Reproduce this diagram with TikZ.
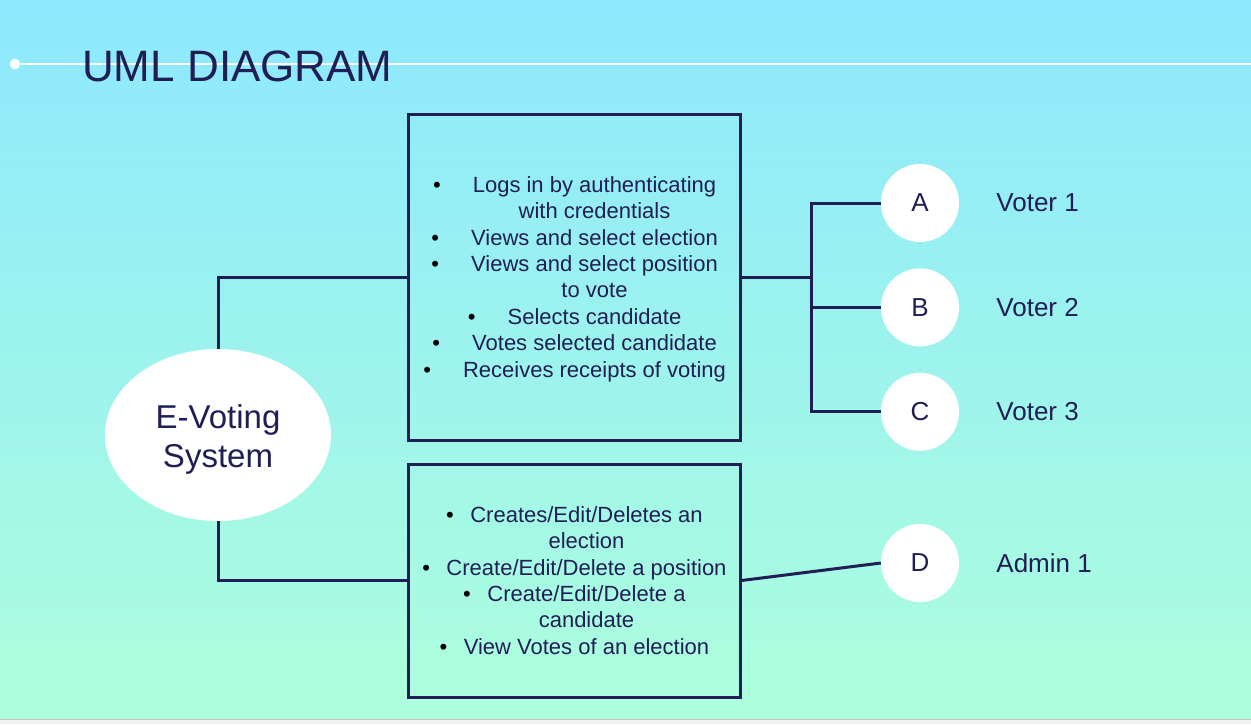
\documentclass[tikz,border=0pt]{standalone}
\usepackage{fontspec}
\setmainfont{Liberation Sans}
\usetikzlibrary{shapes.geometric,positioning,calc}
\definecolor{ink}{RGB}{32,30,84}
\definecolor{skytop}{RGB}{141,232,254}
\definecolor{mintbot}{RGB}{173,255,220}
\newcommand{\bul}[1][32pt]{\llap{\textcolor{black}{\textbullet}\hspace{#1}}}

\begin{document}
\begin{tikzpicture}[
  x=1pt,y=-1pt,
  wire/.style  ={draw=ink,line width=3pt},
  panel/.style ={draw=ink,line width=3pt,minimum width=332pt,inner sep=0pt},
  items/.style ={align=center,text=ink,inner sep=0pt,
                 font=\fontsize{22pt}{26.4pt}\selectfont},
  actor/.style ={circle,fill=white,minimum size=78pt,inner sep=0pt,text=ink,
                 font=\fontsize{26pt}{31pt}\selectfont},
  who/.style   ={text=ink,inner sep=0pt,anchor=west,
                 font=\fontsize{26pt}{31pt}\selectfont},
  sysell/.style={ellipse,fill=white,minimum width=226pt,minimum height=172pt,
                 inner sep=0pt},
  systxt/.style={align=center,text=ink,inner sep=0pt,
                 font=\fontsize{33pt}{39.5pt}\selectfont}]

% ---------- background ----------
\useasboundingbox (0,0) rectangle (1251,724);
\shade[top color=skytop,bottom color=mintbot] (0,0) rectangle (1251,719);
\fill[gray!12] (0,719) rectangle (1251,724);
\draw[gray!45,line width=1pt] (0,719.5) -- (1251,719.5);

% ---------- title ----------
\node[circle,fill=white,minimum size=10.6pt,inner sep=0pt] (dot) at (15,64) {};
\coordinate (edge) at (1251,64);
\draw[white,line width=2pt] (dot) -- (edge);
\node[anchor=base west,inner sep=0pt,text=ink,
      font=\fontsize{44pt}{53pt}\selectfont] (title) at (82,81) {UML DIAGRAM};

% ---------- system and use-case panels ----------
\node[sysell] (sys) at (218,435) {};
\node[systxt] (sysname) at ([yshift=-4.5pt]sys.center) {E-Voting\\System};

\node[panel,minimum height=326pt] (usr) at (574,277) {};
\node[panel,minimum height=233pt] (adm) at (574,580.5) {};

\node[items] (usrtxt) at ([xshift=20.5pt,yshift=-2pt]usr.center)
  {\bul Logs in by authenticating\\with credentials\\
   \bul Views and select election\\
   \bul Views and select position\\to vote\\
   \bul Selects candidate\\
   \bul Votes selected candidate\\
   \bul Receives receipts of voting};
\node[items] (admtxt) at ([xshift=12.5pt]adm.center)
  {\bul[16.5pt]Creates/Edit/Deletes an\\election\\
   \bul[16.5pt]Create/Edit/Delete a position\\
   \bul[16.5pt]Create/Edit/Delete a\\candidate\\
   \bul[16.5pt]View Votes of an election};

% ---------- actors ----------
\node[actor] (vA) at (920,203) {A};
\node[actor,below=26pt of vA] (vB) {B};
\node[actor,below=26pt of vB] (vC) {C};
\node[actor] (vD) at (920,563) {D};

\node[who,right=37pt of vA] (lA) {Voter 1};
\node[who,right=37pt of vB] (lB) {Voter 2};
\node[who,right=37pt of vC] (lC) {Voter 3};
\node[who,right=37pt of vD] (lD) {Admin 1};

% ---------- connectors ----------
\draw[wire] (sys.north) |- (usr.west);
\draw[wire] (sys.south) |- (adm.west);

\coordinate[right=70pt of usr.east] (hub);
\draw[wire] (usr.east) -- (hub);
\draw[wire] (vA.west) -| (hub) |- (vC.west);
\draw[wire] (vB.west) -- (vB.west -| hub);
\draw[wire] (adm.east) -- (vD.west);

\end{tikzpicture}
\end{document}
